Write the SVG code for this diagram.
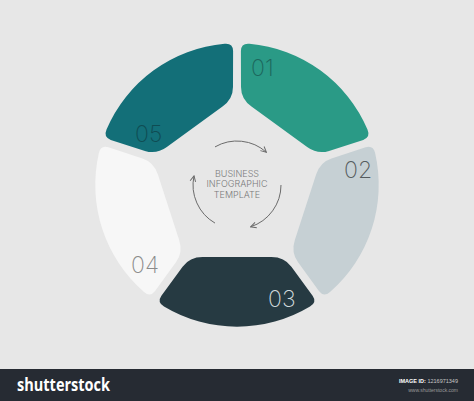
<svg xmlns="http://www.w3.org/2000/svg" width="474" height="401" viewBox="0 0 474 401">
<defs>
<style>
.num{font-family:Inter,"Noto Sans",sans-serif;font-weight:200;font-size:23px;}
.ctr{font-family:Inter,"Noto Sans",sans-serif;font-weight:300;font-size:9px;fill:#7a7a7a;text-anchor:middle;}
.arr{fill:none;stroke:#6b6b6b;stroke-width:1;}
</style>
<path id="seg" d="M 34.4 72 Q 47.4 72 54.4 81.7 L 75.6 110.7 Q 80.2 117.2 73 121.5 A 142 142 0 0 1 -73 121.5 Q -80.2 117.2 -75.6 110.7 L -54.4 81.7 Q -47.4 72 -34.4 72 Z"/>
<marker id="ah" viewBox="0 0 10 10" refX="9" refY="5" markerWidth="7" markerHeight="7" markerUnits="userSpaceOnUse" orient="auto">
<path d="M 1 1 L 9 5 L 1 9" fill="none" stroke="#6b6b6b" stroke-width="1.4"/>
</marker>
</defs>
<rect width="474" height="401" fill="#e7e7e7"/>
<g id="node-03"><use href="#seg" transform="translate(237 185)" fill="#263a42"/><text class="num" x="268" y="307" fill="#d3dadd">03</text></g>
<g id="node-02"><use href="#seg" transform="translate(237 185) rotate(-72)" fill="#c6d0d4"/><text class="num" x="344" y="178" fill="#555b5e">02</text></g>
<g id="node-01"><use href="#seg" transform="translate(237 185) rotate(-144)" fill="#2a9a86"/><text class="num" x="251" y="76" fill="#1c665c">01</text></g>
<g id="node-05"><use href="#seg" transform="translate(237 185) rotate(144)" fill="#136f78"/><text class="num" x="135" y="142" fill="#0f4c53">05</text></g>
<g id="node-04"><use href="#seg" transform="translate(237 185) rotate(72)" fill="#f7f7f7"/><text class="num" x="131" y="273" fill="#8a8a8a">04</text></g>
<g id="center">
<text class="ctr" x="237" y="177">BUSINESS</text>
<text class="ctr" x="237" y="187">INFOGRAPHIC</text>
<text class="ctr" x="237" y="198">TEMPLATE</text>
</g>
<g id="connectors">
<path class="arr" d="M 215 146.9 A 44 44 0 0 1 266.4 152.3" marker-end="url(#ah)"/>
<path class="arr" d="M 281 185 A 44 44 0 0 1 250.6 226.8" marker-end="url(#ah)"/>
<path class="arr" d="M 215 223.1 A 44 44 0 0 1 194 175.9" marker-end="url(#ah)"/>
</g>
<g id="footer">
<rect x="0" y="369" width="474" height="32" fill="#262b33"/>
<text x="17" y="391" textLength="93" lengthAdjust="spacingAndGlyphs" font-family="'Open Sans','Noto Sans',sans-serif" font-weight="700" font-size="17" fill="#ffffff">shutterstock</text>
<text x="458" y="383" text-anchor="end" font-family="'Liberation Sans',sans-serif" font-size="5.5" fill="#c8c8c8"><tspan font-weight="bold" fill="#ffffff">IMAGE ID:</tspan> 1216971349</text>
<text x="458" y="392" text-anchor="end" font-family="'Liberation Sans',sans-serif" font-size="5" fill="#9a9a9a">www.shutterstock.com</text>
</g>
</svg>
